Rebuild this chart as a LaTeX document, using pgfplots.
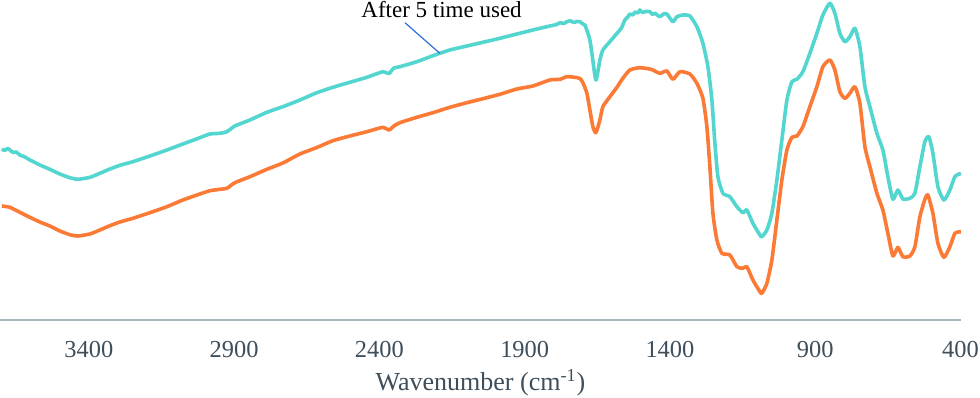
\documentclass[border=0pt]{standalone}
\usepackage{fontspec}
\setmainfont{Liberation Serif}
\usepackage{pgfplots}
\pgfplotsset{compat=1.18}
\definecolor{cyanline}{HTML}{52D6CF}
\definecolor{orangeline}{HTML}{FB7A35}
\definecolor{labeltext}{HTML}{3E4E5A}
\definecolor{axisgray}{HTML}{A9B4B8}
\definecolor{pointer}{HTML}{2F6FDB}
\begin{document}
\begin{tikzpicture}
\begin{axis}[
  width=480.5pt, height=160pt, scale only axis,
  x dir=reverse, xmin=398, xmax=3706, ymin=0, ymax=320,
  axis x line=bottom, axis y line=none,
  x axis line style={draw=axisgray, line width=0.75pt, -},
  xtick={400,900,1400,1900,2400,2900,3400},
  major tick length=0pt,
  xticklabel style={font=\fontsize{12.2}{14}\selectfont, text=labeltext, inner sep=0pt, anchor=north, yshift=-10.2pt},
  /pgf/number format/assume math mode=true,
  /pgf/number format/1000 sep={},
  xlabel={Wavenumber (cm\textsuperscript{-1})},
  xlabel style={font=\fontsize{13}{15}\selectfont, text=labeltext, at={(axis description cs:0.5,0)}, anchor=base, inner sep=0pt, yshift=-35pt},
  clip=false,
  every axis plot/.append style={line width=1.8pt, line join=round, mark=none, smooth, tension=0.35},
]
% after 5 times used
\addplot[cyanline] coordinates {
(3699.5,171) (3690,169.5) (3680,171.5) (3672,170) (3660,167.5) (3650,168)
(3637.6,165) (3620,163) (3603.1,160) (3568.7,155) (3534.3,150.7) (3499.9,146)
(3465.4,142.3) (3437.9,140.7) (3396.6,142.7) (3362.2,146.7) (3327.7,151)
(3293.3,154.7) (3248.6,158.3) (3190.1,164) (3131.5,170) (3076.5,176)
(3017.9,182.3) (2983.5,186) (2949.1,186.7) (2925.0,188.3) (2897.5,194)
(2845.8,200) (2787.3,207.7) (2732.2,213.3) (2673.7,220) (2615.2,227.3)
(2560.1,232.7) (2501.6,237.7) (2443.1,242.7) (2388.0,248.3) (2367,246.5)
(2350,252) (2329.5,253.3) (2271.0,258.3) (2215.9,264.3) (2157.4,270)
(2098.9,274) (2043.8,277.7) (1985.3,281.7) (1926.8,286) (1871.7,290)
(1813.2,294) (1790,295.5) (1778.7,297.3) (1765,296.5) (1754.6,298.3)
(1744.3,299.3) (1730,297.5) (1720.2,298.5) (1709.8,298.3) (1699.5,296)
(1692.6,295) (1682.3,286.7) (1675.4,280) (1668.5,266.7) (1654.8,240)
(1641.0,260) (1630.7,270) (1606.6,278.3) (1590,284) (1572.2,290) (1565,293)
(1555.0,300) (1545,303) (1537.8,306) (1528,305) (1520,308) (1510,307)
(1503.3,310) (1495,307.5) (1485,308.5) (1468.9,308.3) (1460,305.5)
(1451.7,306.7) (1434.5,303.3) (1420,306.5) (1410.4,306) (1389.7,298.3)
(1375.9,303.3) (1355.3,305) (1331.2,304) (1307.1,293.3) (1286.4,276.7)
(1269.2,253.3) (1255.5,220) (1245.1,176.7) (1234.8,143.3) (1217.6,126.7)
(1193.5,123.3) (1169.4,113.3) (1148.8,107.3) (1135.0,110) (1114.3,96.7)
(1090.2,85) (1083.4,83.3) (1066.2,90) (1049.0,106.7) (1031.8,140)
(1014.6,180) (997.3,220) (980.1,238.3) (962.9,240.7) (942.3,248.3)
(918.2,266.7) (894.1,286.7) (873.4,305) (849.3,316.7) (832.1,306.7)
(814.9,286.7) (797.6,278.3) (780.4,283.3) (763.2,291.7) (746.0,273.3)
(728.8,233.3) (711.6,213.3) (687.5,186.7) (666.9,170) (649.7,143.3)
(632.4,120.7) (615.2,130) (598.0,121) (573.9,121.7) (556.7,126.7)
(539.5,153.3) (522.3,178.3) (508.5,183.3) (494.7,166.7) (477.5,133.3)
(456.9,120) (436.2,130) (419.0,143.3) (398.3,146.7)
};
% fresh
\addplot[orangeline] coordinates {
(3699.5,114) (3672,112.7) (3637.6,107.7) (3603.1,102.7) (3568.7,98)
(3534.3,94) (3499.9,89) (3465.4,85.3) (3437.9,84) (3396.6,86) (3362.2,90)
(3327.7,94.3) (3293.3,98) (3248.6,101.7) (3190.1,107.3) (3131.5,113.3)
(3076.5,120) (3017.9,126) (2983.5,129.3) (2949.1,130.7) (2925.0,131.7)
(2897.5,137.3) (2845.8,143.3) (2787.3,150.7) (2732.2,157) (2673.7,166)
(2615.2,172.5) (2560.1,179.3) (2501.6,184) (2443.1,188.3) (2388.0,192.7)
(2367,190) (2350,194) (2329.5,197.3) (2271.0,202.7) (2215.9,207.3)
(2157.4,212.7) (2098.9,217.3) (2043.8,221.3) (1985.3,225.7) (1926.8,231)
(1871.7,234) (1813.2,240) (1778.7,240.7) (1754.6,243.3) (1727.1,242.7)
(1709.8,241.5) (1699.5,237.3) (1685.7,226.7) (1675.4,210) (1665.1,193.3)
(1654.8,187.3) (1641.0,200) (1630.7,213.3) (1606.6,223.3) (1582.5,232.7)
(1561.9,241.7) (1537.8,250) (1503.3,252.3) (1468.9,251) (1458.6,250)
(1434.5,246.7) (1410.4,249) (1389.7,240.7) (1365.6,248.3) (1331.2,246)
(1307.1,236.7) (1286.4,221.7) (1272.7,193.3) (1262.4,153.3) (1252.0,106.7)
(1238.3,80) (1221.0,66.7) (1193.5,65) (1169.4,53.3) (1148.8,51.7)
(1135.0,53.3) (1114.3,40) (1090.2,28.3) (1083.4,26.7) (1066.2,36.7)
(1049.0,60) (1031.8,100) (1014.6,140) (997.3,170) (980.1,182.7)
(962.9,184) (942.3,193.3) (918.2,213.3) (894.1,233.3) (873.4,253.3)
(849.3,260) (832.1,250) (814.9,228.3) (797.6,221.7) (780.4,226.7)
(763.2,233.3) (746.0,216.7) (728.8,173.3) (711.6,153.3) (687.5,126.7)
(666.9,110) (649.7,86.7) (632.4,64) (615.2,72.7) (598.0,63.3) (573.9,64)
(556.7,73.3) (539.5,103.3) (522.3,120.7) (511.9,125) (494.7,106.7)
(477.5,76.7) (456.9,62.7) (436.2,73.3) (419.0,86.7) (398.3,88.3)
};
\node[font=\fontsize{11.5}{13}\selectfont, anchor=base, inner sep=0pt] at (axis cs:2186,302.7) {After 5 time used};
\draw[pointer, line width=0.6pt] (axis cs:2312,297.3) -- (axis cs:2192,266.7);
\end{axis}
\pgfresetboundingbox
\path (0pt,-38.5pt) rectangle (490pt,160pt);
\end{tikzpicture}
\end{document}
